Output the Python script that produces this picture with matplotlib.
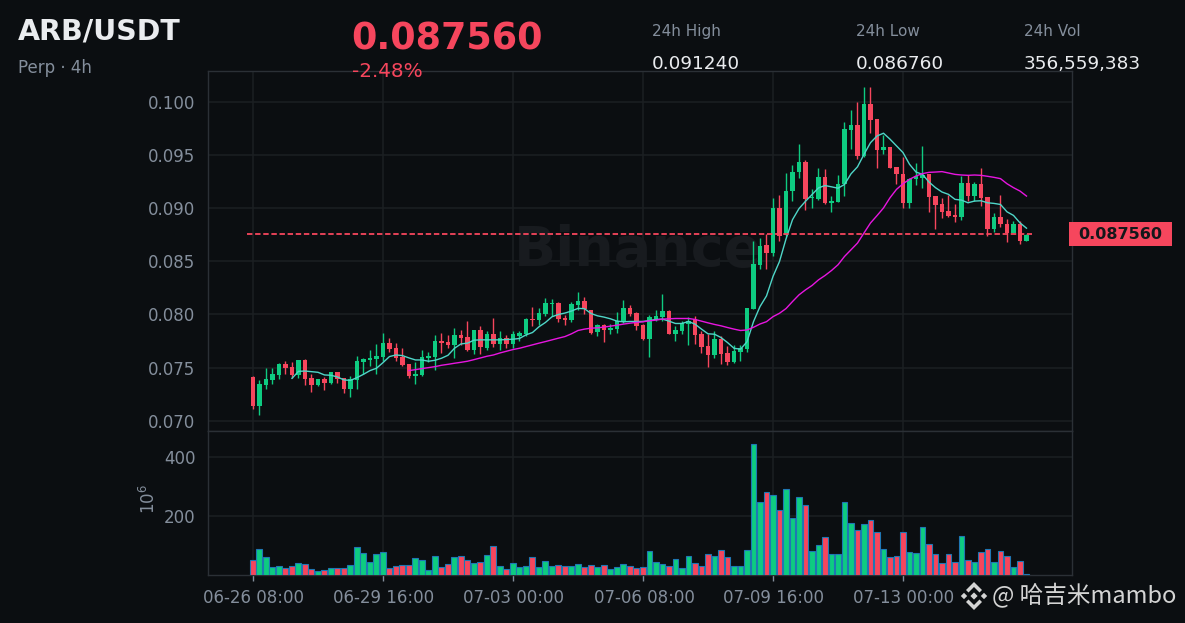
import matplotlib
matplotlib.use("Agg")
import matplotlib.pyplot as plt
from matplotlib.patches import Polygon, Rectangle
from matplotlib.transforms import ScaledTranslation
import numpy as np

plt.rcParams['font.family'] = ['DejaVu Sans', 'Noto Sans CJK SC']

W, H = 1185, 623
BG = '#0b0e11'
GREEN = '#0ecb81'
RED = '#f6465d'
GRID = '#1b1f23'
SPINE = '#2b3036'
GRAY = '#848e9c'

symbol = 'ARB/USDT'
subtitle = 'Perp · 4h'
last_price = 0.08756
last_label = '0.087560'
change_label = '-2.48%'
stats_names = ['24h High', '24h Low', '24h Vol']
stats_values = ['0.091240', '0.086760', '356,559,383']
tick_labels = ['06-26 08:00', '06-29 16:00', '07-03 00:00', '07-06 08:00', '07-09 16:00', '07-13 00:00']

opens = [7409,7135,7333,7380,7428,7535,7503,7428,7569,7399,7333,7390,7352,7456,7399,7296,7380,7550,7569,7579,
         7597,7730,7682,7597,7531,7421,7428,7594,7597,7748,7739,7711,7805,7786,7664,7852,7689,7814,7720,7777,
         7720,7799,7814,7959,7947,8003,8098,8107,7965,7947,8088,8126,8041,7833,7899,7852,7862,7937,8060,8013,
         7899,7767,7956,7975,8032,7814,7843,7909,7956,7814,7701,7616,7767,7635,7550,7648,7677,8052,8467,8655,
         8580,9005,8750,9156,9335,9429,9093,9090,9288,9052,9061,9222,9731,9778,9486,9976,9835,9542,9572,9383,
         9317,9044,9270,9280,9317,9110,9034,8968,8931,8912,9233,9110,9223,9100,8799,8912,8855,8770,8846,8695]
highs = [7424,7384,7500,7500,7547,7566,7557,7575,7585,7443,7396,7409,7459,7462,7406,7421,7613,7594,7670,7723,
         7830,7774,7736,7689,7538,7557,7670,7651,7805,7830,7811,7868,7858,7934,7855,7890,7843,7962,7840,7805,
         7840,7846,7965,8069,8060,8157,8145,8113,7994,8113,8214,8160,8044,7909,7906,7909,8019,8138,8085,8025,
         7909,7994,8044,8189,8041,7893,7940,7975,7987,7846,7814,7846,7799,7704,7711,7711,8064,8690,8718,8759,
         9096,9127,9332,9407,9605,9454,9181,9379,9369,9112,9313,9813,9923,9998,10134,10134,9838,9684,9575,9387,
         9478,9286,9428,9585,9321,9113,9097,9126,9041,9302,9308,9248,9380,9104,8956,9126,8899,8877,8877,8754]
lows = [7113,7053,7299,7343,7393,7440,7399,7402,7336,7270,7330,7289,7349,7355,7261,7223,7299,7437,7513,7440,
        7563,7648,7563,7516,7399,7346,7424,7557,7478,7638,7682,7594,7717,7660,7629,7632,7664,7695,7667,7689,
        7682,7752,7799,7893,7903,7987,7987,7931,7903,7925,8044,8003,7814,7799,7742,7814,7830,7918,7987,7849,
        7761,7601,7937,7940,7814,7748,7814,7717,7720,7635,7506,7594,7538,7525,7547,7560,7649,8048,8426,8426,
        8545,8687,8740,9064,9284,8979,9002,9074,9042,8961,9058,9118,9552,9457,9483,9709,9379,9505,9374,9223,
        9003,9003,9214,9192,8965,8805,8909,8918,8868,8887,9063,9066,9019,8736,8776,8820,8679,8767,8666,8692]
closes = [7135,7343,7390,7437,7531,7494,7428,7569,7390,7333,7390,7352,7456,7390,7296,7390,7560,7579,7591,7607,
          7730,7673,7588,7522,7418,7437,7604,7607,7748,7733,7711,7805,7777,7664,7852,7692,7814,7720,7777,7720,
          7814,7830,7956,7950,8013,8107,8107,7956,7947,8098,8126,8050,7830,7899,7852,7871,7940,8060,8003,7890,
          7767,7975,7984,8032,7814,7852,7918,7940,7805,7692,7616,7767,7626,7550,7654,7689,8061,8476,8646,8580,
          9005,8740,9165,9335,9429,9090,9108,9288,9052,9071,9231,9741,9778,9486,9976,9825,9542,9571,9374,9317,
          9044,9270,9299,9308,9100,9025,8959,8921,8912,9233,9110,9223,9091,8799,8912,8846,8770,8846,8695,8751]
volumes = [50,87,60,26,29,23,29,40,36,19,12,16,23,23,23,33,94,73,43,70,
           77,23,29,33,33,57,50,16,63,26,36,60,63,50,40,43,67,97,29,19,
           40,26,29,60,26,46,29,33,29,29,36,26,33,26,33,19,26,36,29,23,
           26,80,43,36,29,53,23,63,40,29,70,63,84,60,29,29,84,445,248,282,
           272,220,292,193,265,237,81,101,128,70,70,248,176,152,173,186,145,87,60,64,
           145,77,74,162,105,70,40,70,43,132,50,43,77,87,43,81,64,26,47,2]
ma7 = [7399,7465,7468,7462,7456,7431,7428,7412,7384,7380,7406,7437,7472,7494,7547,7604,7619,7613,7591,7572,
       7572,7560,7569,7588,7616,7682,7723,7730,7758,7761,7761,7761,7761,7764,7767,7774,7808,7830,7884,7925,
       7978,8000,8013,8032,8057,8054,8009,7987,7975,7959,7937,7931,7934,7934,7934,7943,7953,7956,7937,7915,
       7915,7934,7909,7862,7818,7814,7783,7736,7682,7673,7743,7932,8074,8174,8357,8498,8709,8891,8995,9064,
       9127,9190,9212,9200,9187,9222,9322,9388,9505,9615,9678,9704,9648,9585,9522,9412,9339,9317,9245,9192,
       9151,9129,9082,9075,9050,9066,9069,9050,9044,9034,8965,8931,8861,8811]
ma25 = [7472,7481,7491,7500,7509,7522,7531,7541,7550,7560,7575,7591,7607,7619,7638,7654,7670,7682,7698,7714,
        7730,7745,7761,7777,7792,7818,7849,7862,7871,7874,7881,7890,7899,7909,7918,7925,7931,7940,7947,7956,
        7959,7962,7962,7962,7953,7937,7921,7906,7893,7877,7862,7849,7854,7879,7910,7932,7979,8011,8055,8121,
        8184,8231,8272,8325,8366,8413,8467,8545,8608,8671,8766,8860,8929,9001,9097,9176,9229,9270,9302,9324,
        9336,9339,9343,9330,9317,9311,9308,9311,9308,9299,9289,9277,9229,9192,9160,9113]

scale = 1e-5
o, h, l, c = [np.array(a) * scale for a in (opens, highs, lows, closes)]
vol = np.array(volumes, dtype=float)
x = np.arange(len(o))
x_ma7 = x[len(x) - len(ma7):]
x_ma25 = x[len(x) - len(ma25):]
cols = [GREEN if ci >= oi else RED for oi, ci in zip(o, c)]

def box(left, top, right, bottom):
    return [left / W, 1 - bottom / H, (right - left) / W, (bottom - top) / H]

fig = plt.figure(figsize=(W / 100, H / 100), dpi=100, facecolor=BG)
ax = fig.add_axes(box(208, 71, 1072, 431), facecolor=BG)
av = fig.add_axes(box(208, 431, 1072, 575), facecolor=BG, sharex=ax)

tick_pos = np.arange(0, 120, 20)
xlim = (-6.92, 126.0)

# candles
ax.vlines(x, l, h, colors=cols, linewidth=1.0, zorder=3)
ax.bar(x, np.abs(c - o), bottom=np.minimum(o, c), width=0.76, color=cols, linewidth=0, zorder=4)
ax.plot(x_ma7, np.array(ma7) * scale, color='#4fd6c8', lw=1.0, zorder=5)
ax.plot(x_ma25, np.array(ma25) * scale, color='#e815e0', lw=1.0, zorder=5)
ax.plot([-0.9, 119.9], [last_price, last_price], color=RED, lw=1.3, dashes=(3.0, 1.5), zorder=6)

ax.set_xlim(*xlim)
ax.set_ylim(0.06904, 0.10289)
ax.set_yticks([0.070, 0.075, 0.080, 0.085, 0.090, 0.095, 0.100])
ax.set_yticklabels(['0.070', '0.075', '0.080', '0.085', '0.090', '0.095', '0.100'])
ax.text(0.4975, 0.50, 'Binance', transform=ax.transAxes, color='#181b1f', fontsize=40,
        fontweight='bold', ha='center', va='center', zorder=1)

# volume
av.bar(x, vol, width=0.92, color=cols, edgecolor='#1f77b4', linewidth=0.8, zorder=3)
av.set_ylim(0, 488)
av.set_yticks([200, 400])
av.set_xticks(tick_pos)
av.set_xticklabels(tick_labels)

for a in (ax, av):
    a.grid(True, color=GRID, linewidth=1.1, zorder=0)
    a.set_axisbelow(True)
    for s in a.spines.values():
        s.set_color(SPINE)
        s.set_linewidth(1.0)
    a.tick_params(axis='y', length=0, labelcolor=GRAY, labelsize=12, pad=9)
    a.tick_params(axis='x', length=4, color=GRAY, labelcolor=GRAY, labelsize=12, pad=6, width=1)
ax.tick_params(axis='x', length=0, labelbottom=False)
for lab in av.get_xticklabels():
    lab.set_transform(lab.get_transform() + ScaledTranslation(1 / 100, 0, fig.dpi_scale_trans))

fig.text(149 / W, 1 - 499 / H, r'$\mathregular{10^6}$', color=GRAY, fontsize=12,
         rotation=90, ha='center', va='center')

def T(px, py, s, **kw):
    kw.setdefault('va', 'center')
    return fig.text(px / W, 1 - py / H, s, **kw)

T(18, 31, symbol, color='#eaecef', fontsize=20.5, fontweight='bold')
T(18, 68, subtitle, color=GRAY, fontsize=12)
T(351.5, 39, last_label, color=RED, fontsize=26.3, fontweight='bold')
T(352, 71.5, change_label, color=RED, fontsize=14.4)
for px, n, v in zip([652, 856, 1024], stats_names, stats_values):
    T(px, 31.5, n, color=GRAY, fontsize=11)
    T(px, 64, v, color='#eaecef', fontsize=13.3)

# last price tag
fig.add_artist(Rectangle((1069 / W, 1 - 246 / H), 103 / W, 24 / H, transform=fig.transFigure,
                         facecolor=RED, edgecolor='none', zorder=8))
T(1120, 234.5, last_label, color='#14171a', fontsize=11.5, fontweight='bold', ha='center', zorder=9)

# bottom-right mark
LOGO = '#d4d4d4'
def diamond(cx, cy, r):
    pts = [(cx - r, cy), (cx, cy - r), (cx + r, cy), (cx, cy + r)]
    fig.add_artist(Polygon([(a / W, 1 - b / H) for a, b in pts], closed=True,
                           transform=fig.transFigure, facecolor=LOGO, edgecolor='none', zorder=8))
def chevron(pts):
    fig.add_artist(Polygon([(a / W, 1 - b / H) for a, b in pts], closed=True,
                           transform=fig.transFigure, facecolor=LOGO, edgecolor='none', zorder=8))
diamond(974, 596, 3.6)
diamond(964, 596, 3.2)
diamond(984, 596, 3.2)
chevron([(974, 582), (982, 590), (979.5, 592.5), (974, 587), (968.5, 592.5), (966, 590)])
chevron([(974, 610), (982, 602), (979.5, 599.5), (974, 605), (968.5, 599.5), (966, 602)])
T(992, 596, '@ 哈吉米mambo', color=LOGO, fontsize=17, zorder=9,
  family=['Noto Sans CJK SC', 'DejaVu Sans'])

fig.savefig('out.png', dpi=100, facecolor=BG)
